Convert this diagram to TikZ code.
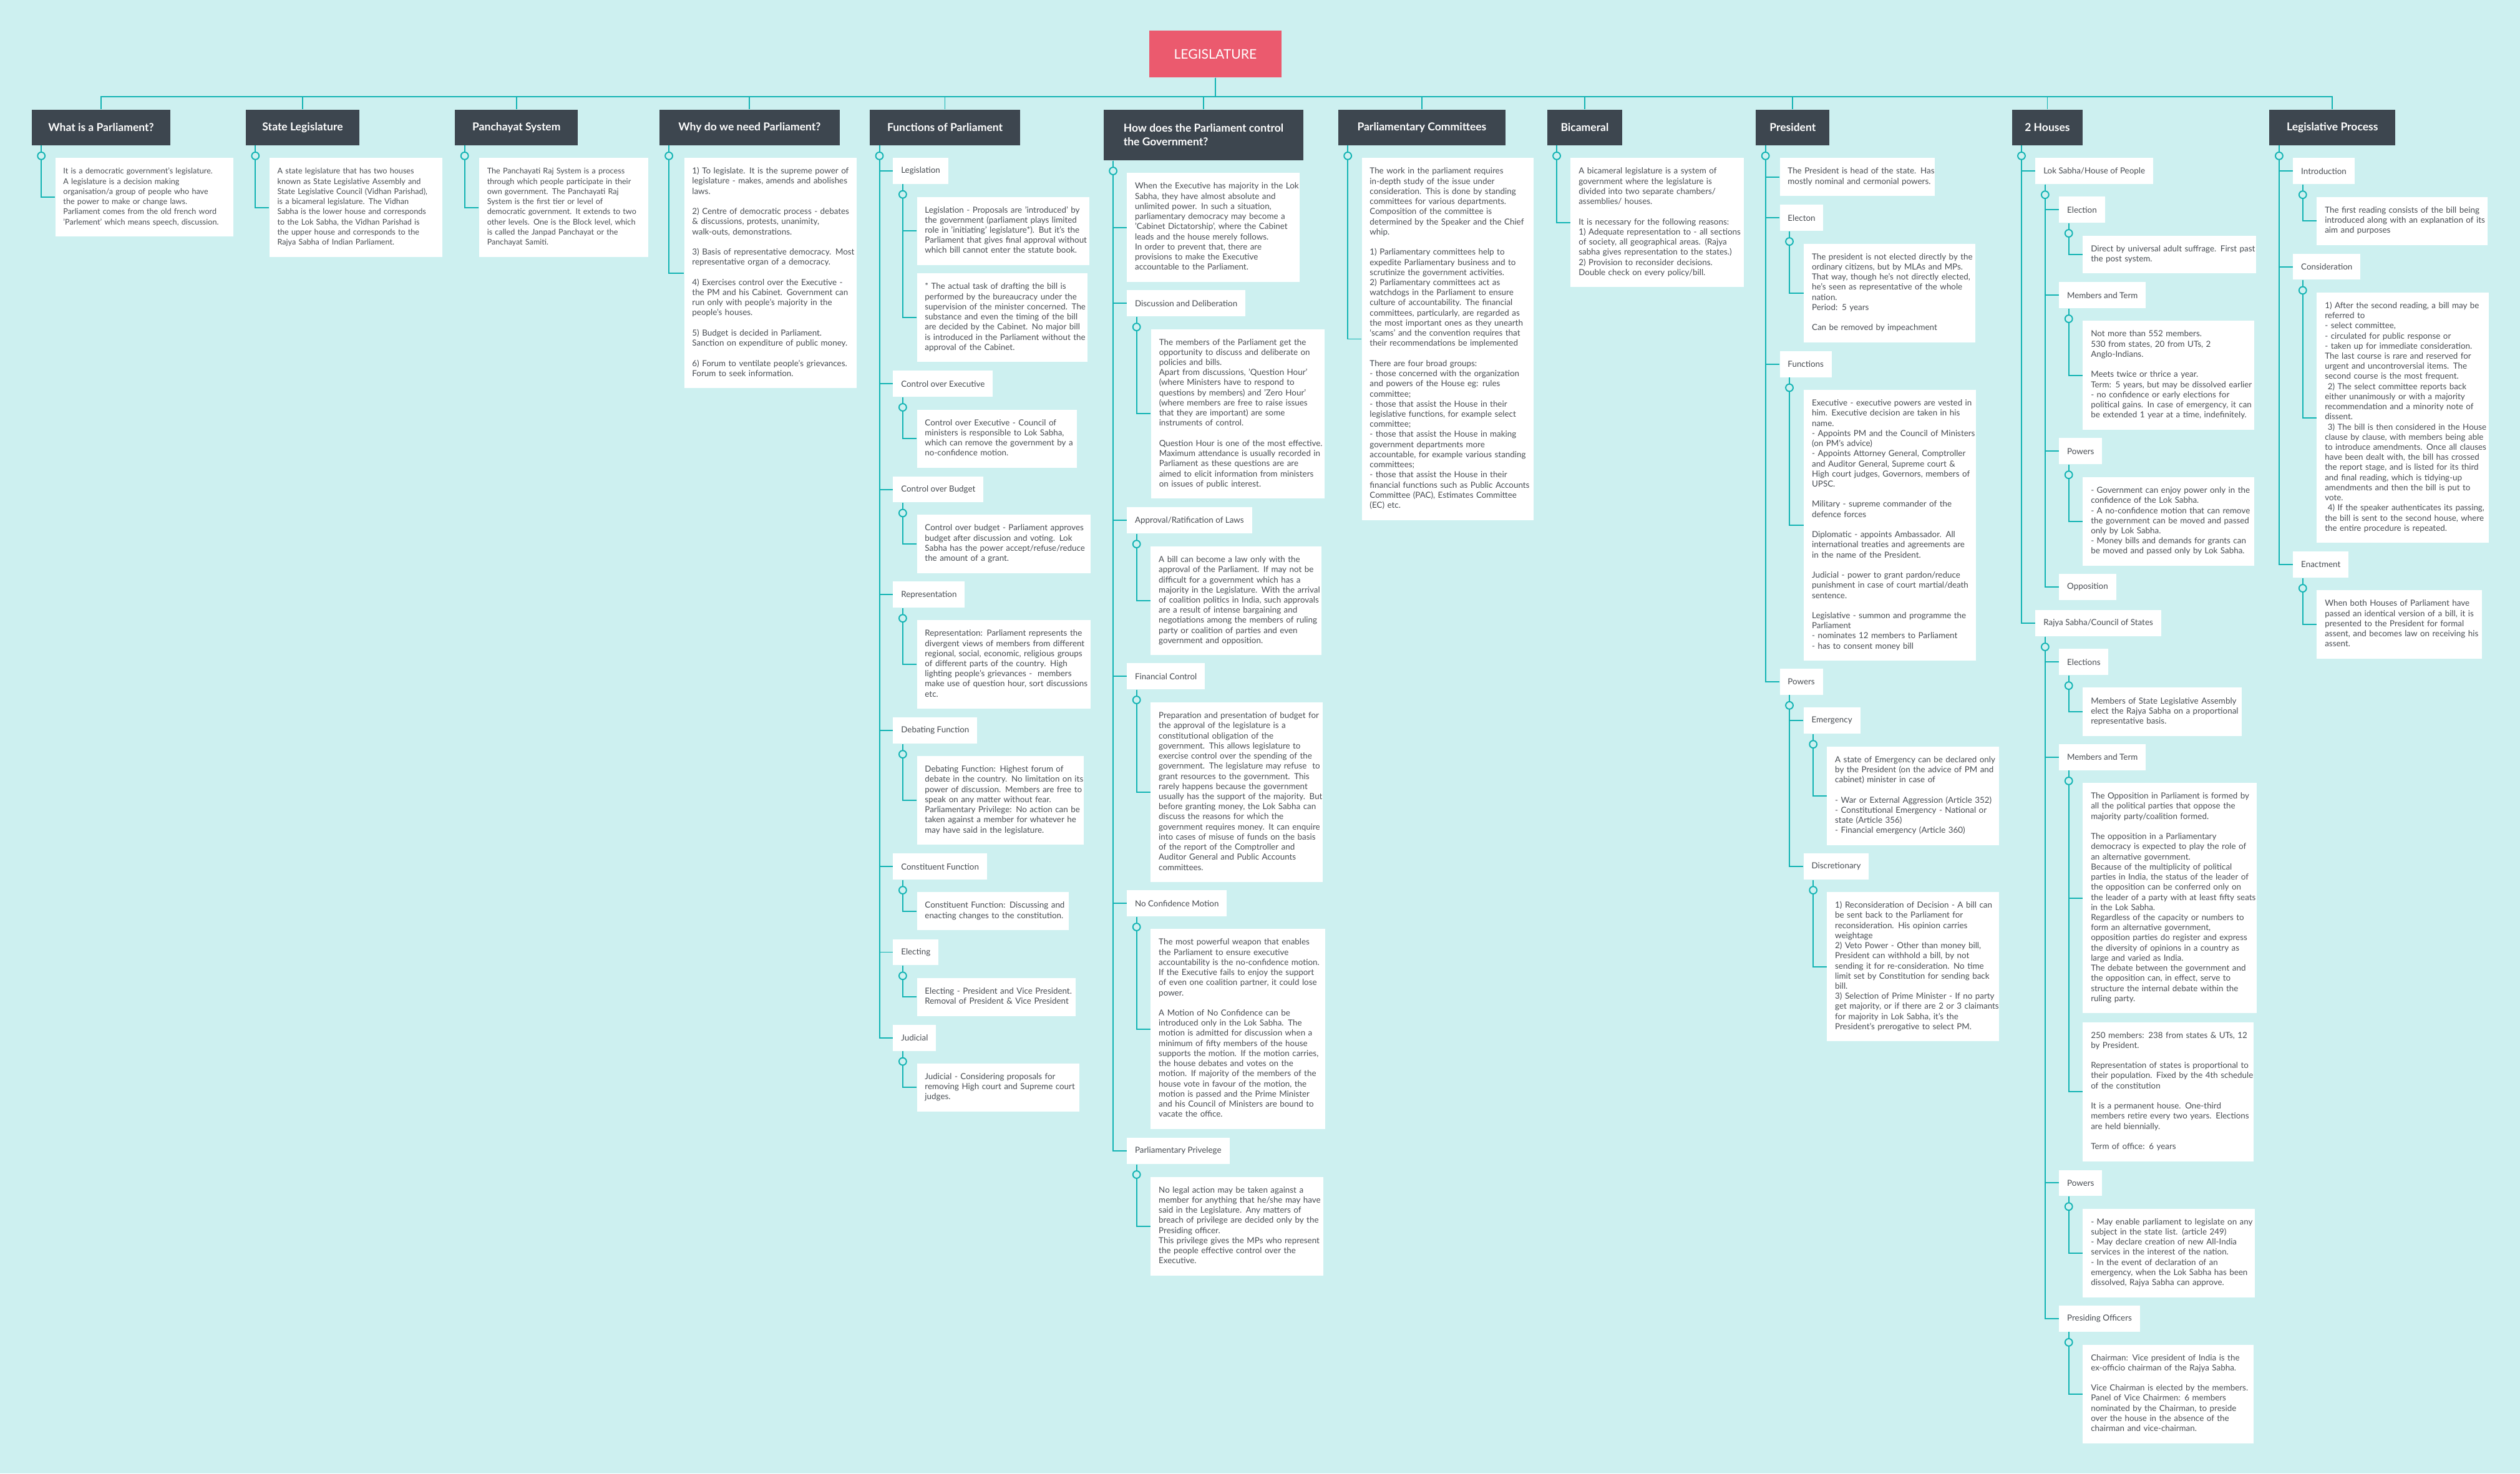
\documentclass[tikz,border=0pt]{standalone}
\usepackage{fontspec}
\setmainfont{Lato}
\definecolor{bg}{HTML}{CDF0F0}
\definecolor{tl}{HTML}{12B3B3}
\definecolor{hdr}{HTML}{3D464F}
\definecolor{pk}{HTML}{EB5A6E}
\definecolor{tx}{HTML}{474C52}
\newcommand\tb[1]{\noindent\begin{tabular}{@{}l@{}}#1\end{tabular}}
\newcommand\kids[2]{\foreach \c in {#2}{\draw[conn] ([xshift=6.2pt]#1.south west) |- (\c.west);}\node[dot] (k#1) at ([xshift=6.2pt,yshift=-6.4pt]#1.south west) {};}
\tikzset{
 conn/.style={draw=tl,line width=0.75pt},
 dot/.style={circle,draw=tl,fill=bg,line width=0.75pt,minimum size=4.6pt,inner sep=0pt},
 hd/.style={fill=hdr,text=white,font=\fontsize{6.8}{8.6}\selectfont\bfseries,inner xsep=6pt,inner ysep=0pt,minimum height=22.2pt,anchor=north west,align=left},
 lbl/.style={fill=white,text=tx,font=\fontsize{5.2}{6.3}\selectfont,inner xsep=5pt,inner ysep=2pt,minimum height=16.2pt,anchor=north west},
 txt/.style={fill=white,text=tx,font=\fontsize{5.2}{6.3}\selectfont,inner xsep=5pt,inner ysep=5.5pt,anchor=north west,align=left,text width=#1-10pt},
 ntxt/.style={txt=#1,font=\fontsize{4.9}{6.3}\selectfont}
}
\begin{document}
\begin{tikzpicture}[x=1pt,y=-1pt]
\fill[bg] (0,0) rectangle (1568,917);
\useasboundingbox (0,0) rectangle (1568,917);
\node[fill=pk,text=white,font=\fontsize{8.2}{9}\selectfont,minimum width=82pt,minimum height=29pt,anchor=north west] (leg) at (715,19) {LEGISLATURE};
% headers
\node[hd,minimum width=86.4pt] (H1) at (19.5,68) {What is a Parliament?};
\node[hd,minimum width=70.8pt] (H2) at (152.7,68) {State Legislature};
\node[hd,minimum width=76.5pt] (H3) at (282.9,68) {Panchayat System};
\node[hd,minimum width=112.4pt] (H4) at (410,68) {Why do we need Parliament?};
\node[hd,minimum width=93.5pt] (H5) at (541,68) {Functions of Parliament};
\node[hd,minimum width=124.5pt,minimum height=31.6pt] (H6) at (686.4,68) {How does the Parliament control\\the Government?};
\node[hd,minimum width=104.2pt] (H7) at (832.4,68) {Parliamentary Committees};
\node[hd,minimum width=46.9pt] (H8) at (962.4,68) {Bicameral};
\node[hd,minimum width=45.9pt] (H9) at (1092.3,68) {President};
\node[hd,minimum width=44.2pt] (H10) at (1251.6,68) {2 Houses};
\node[hd,minimum width=78.3pt] (H11) at (1411.9,68) {Legislative Process};
\foreach \h in {H1,H2,H3,H4,H5,H6,H7,H8,H9,H10,H11}{\draw[conn] (leg.south) -- (leg.south |- 0,60) -| (\h.north);}
% column 1-3
\node[ntxt=110.7pt] (w1) at (34.2,98.2) {\tb{It is a democratic government's legislature.\\A legislature is a decision making\\organisation/a group of people who have\\the power to make or change laws.\\Parliament comes from the old french word\\'Parlement' which means speech, discussion.}};
\node[ntxt=107.7pt] (s1) at (167.4,98.2) {\tb{A state legislature that has two houses\\known as State Legislative Assembly and\\State Legislative Council (Vidhan Parishad),\\is a bicameral legislature. The Vidhan\\Sabha is the lower house and corresponds\\to the Lok Sabha, the Vidhan Parishad is\\the upper house and corresponds to the\\Rajya Sabha of Indian Parliament.}};
\node[ntxt=105.1pt] (p1) at (297.9,98.2) {\tb{The Panchayati Raj System is a process\\through which people participate in their\\own government. The Panchayati Raj\\System is the first tier or level of\\democratic government. It extends to two\\other levels. One is the Block level, which\\is called the Janpad Panchayat or the\\Panchayat Samiti.}};
\node[txt=107.3pt] (y1) at (425.5,98.1) {\tb{1) To legislate. It is the supreme power of\\legislature - makes, amends and abolishes\\laws.\\[6.3pt]2) Centre of democratic process - debates\\\& discussions, protests, unanimity,\\walk-outs, demonstrations.\\[6.3pt]3) Basis of representative democracy. Most\\representative organ of a democracy.\\[6.3pt]4) Exercises control over the Executive -\\the PM and his Cabinet. Government can\\run only with people's majority in the\\people's houses.\\[6.3pt]5) Budget is decided in Parliament.\\Sanction on expenditure of public money.\\[6.3pt]6) Forum to ventilate people's grievances.\\Forum to seek information.}};
\kids{H1}{w1}\kids{H2}{s1}\kids{H3}{p1}\kids{H4}{y1}
% Functions
\node[lbl] (f1) at (555.5,98) {Legislation};
\node[txt=107.4pt] (f1a) at (570.3,122.3) {\tb{Legislation - Proposals are 'introduced' by\\the government (parliament plays limited\\role in 'initiating' legislature*). But it's the\\Parliament that gives final approval without\\which bill cannot enter the statute book.}};
\node[txt=106pt] (f1b) at (570.3,170) {\tb{* The actual task of drafting the bill is\\performed by the bureaucracy under the\\supervision of the minister concerned. The\\substance and even the timing of the bill\\are decided by the Cabinet. No major bill\\is introduced in the Parliament without the\\approval of the Cabinet.}};
\node[lbl] (f2) at (555.5,230.5) {Control over Executive};
\node[txt=99.4pt] (f2a) at (570.3,254.7) {\tb{Control over Executive - Council of\\ministers is responsible to Lok Sabha,\\which can remove the government by a\\no-confidence motion.}};
\node[lbl] (f3) at (555.5,296.3) {Control over Budget};
\node[txt=108pt] (f3a) at (570.3,320.2) {\tb{Control over budget - Parliament approves\\budget after discussion and voting. Lok\\Sabha has the power accept/refuse/reduce\\the amount of a grant.}};
\node[lbl] (f4) at (555.5,361.8) {Representation};
\node[txt=108pt] (f4a) at (570.3,385.8) {\tb{Representation: Parliament represents the\\divergent views of members from different\\regional, social, economic, religious groups\\of different parts of the country. High\\lighting people's grievances - \ members\\make use of question hour, sort discussions\\etc.}};
\node[lbl] (f5) at (555.5,446.4) {Debating Function};
\node[txt=104pt] (f5a) at (570.3,470.4) {\tb{Debating Function: Highest forum of\\debate in the country. No limitation on its\\power of discussion. Members are free to\\speak on any matter without fear.\\Parliamentary Privilege: No action can be\\taken against a member for whatever he\\may have said in the legislature.}};
\node[lbl] (f6) at (555.5,531) {Constituent Function};
\node[txt=94.5pt] (f6a) at (570.3,555.1) {\tb{Constituent Function: Discussing and\\enacting changes to the constitution.}};
\node[lbl] (f7) at (555.5,584.3) {Electing};
\node[txt=98.7pt] (f7a) at (570.3,608.5) {\tb{Electing - President and Vice President.\\Removal of President \& Vice President}};
\node[lbl] (f8) at (555.5,637.6) {Judicial};
\node[txt=101pt] (f8a) at (570.3,661.6) {\tb{Judicial - Considering proposals for\\removing High court and Supreme court\\judges.}};
\kids{H5}{f1,f2,f3,f4,f5,f6,f7,f8}
\kids{f1}{f1a,f1b}\kids{f2}{f2a}\kids{f3}{f3a}\kids{f4}{f4a}\kids{f5}{f5a}\kids{f6}{f6a}\kids{f7}{f7a}\kids{f8}{f8a}
% How does
\node[txt=107.6pt] (g0) at (701,107.5) {\tb{When the Executive has majority in the Lok\\Sabha, they have almost absolute and\\unlimited power. In such a situation,\\parliamentary democracy may become a\\'Cabinet Dictatorship', where the Cabinet\\leads and the house merely follows.\\In order to prevent that, there are\\provisions to make the Executive\\accountable to the Parliament.}};
\node[lbl] (g1) at (701,180.5) {Discussion and Deliberation};
\node[txt=108pt] (g1a) at (716,204.6) {\tb{The members of the Parliament get the\\opportunity to discuss and deliberate on\\policies and bills.\\Apart from discussions, 'Question Hour'\\(where Ministers have to respond to\\questions by members) and 'Zero Hour'\\(where members are free to raise issues\\that they are important) are some\\instruments of control.\\[6.3pt]Question Hour is one of the most effective.\\Maximum attendance is usually recorded in\\Parliament as these questions are are\\aimed to elicit information from ministers\\on issues of public interest.}};
\node[lbl] (g2) at (701,315.6) {Approval/Ratification of Laws};
\node[txt=106.2pt] (g2a) at (715.8,339.9) {\tb{A bill can become a law only with the\\approval of the Parliament. If may not be\\difficult for a government which has a\\majority in the Legislature. With the arrival\\of coalition politics in India, such approvals\\are a result of intense bargaining and\\negotiations among the members of ruling\\party or coalition of parties and even\\government and opposition.}};
\node[lbl] (g3) at (701,412.6) {Financial Control};
\node[txt=107pt] (g3a) at (715.8,437) {\tb{Preparation and presentation of budget for\\the approval of the legislature is a\\constitutional obligation of the\\government. This allows legislature to\\exercise control over the spending of the\\government. The legislature may refuse \ to\\grant resources to the government. This\\rarely happens because the government\\usually has the support of the majority. But\\before granting money, the Lok Sabha can\\discuss the reasons for which the\\government requires money. It can enquire\\into cases of misuse of funds on the basis\\of the report of the Comptroller and\\Auditor General and Public Accounts\\committees.}};
\node[lbl] (g4) at (701,553.9) {No Confidence Motion};
\node[txt=108.7pt] (g4a) at (715.8,578) {\tb{The most powerful weapon that enables\\the Parliament to ensure executive\\accountability is the no-confidence motion.\\If the Executive fails to enjoy the support\\of even one coalition partner, it could lose\\power.\\[6.3pt]A Motion of No Confidence can be\\introduced only in the Lok Sabha. The\\motion is admitted for discussion when a\\minimum of fifty members of the house\\supports the motion. If the motion carries,\\the house debates and votes on the\\motion. If majority of the members of the\\house vote in favour of the motion, the\\motion is passed and the Prime Minister\\and his Council of Ministers are bound to\\vacate the office.}};
\node[lbl] (g5) at (701,708) {Parliamentary Privelege};
\node[txt=107.4pt] (g5a) at (715.8,732.2) {\tb{No legal action may be taken against a\\member for anything that he/she may have\\said in the Legislature. Any matters of\\breach of privilege are decided only by the\\Presiding officer.\\This privilege gives the MPs who represent\\the people effective control over the\\Executive.}};
\kids{H6}{g0,g1,g2,g3,g4,g5}
\kids{g1}{g1a}\kids{g2}{g2a}\kids{g3}{g3a}\kids{g4}{g4a}\kids{g5}{g5a}
% Committees
\node[txt=107.1pt] (c1) at (847.1,98.2) {\tb{The work in the parliament requires\\in-depth study of the issue under\\consideration. This is done by standing\\committees for various departments.\\Composition of the committee is\\determined by the Speaker and the Chief\\whip.\\[6.3pt]1) Parliamentary committees help to\\expedite Parliamentary business and to\\scrutinize the government activities.\\2) Parliamentary committees act as\\watchdogs in the Parliament to ensure\\culture of accountability. The financial\\committees, particularly, are regarded as\\the most important ones as they unearth\\‘scams’ and the convention requires that\\their recommendations be implemented\\[6.3pt]There are four broad groups:\\- those concerned with the organization\\and powers of the House eg: rules\\committee;\\- those that assist the House in their\\legislative functions, for example select\\committee;\\- those that assist the House in making\\government departments more\\accountable, for example various standing\\committees;\\- those that assist the House in their\\financial functions such as Public Accounts\\Committee (PAC), Estimates Committee\\(EC) etc.}};
\kids{H7}{c1}
% Bicameral
\node[txt=107.8pt] (b1) at (977.1,98.2) {\tb{A bicameral legislature is a system of\\government where the legislature is\\divided into two separate chambers/\\assemblies/ houses.\\[6.3pt]It is necessary for the following reasons:\\1) Adequate representation to - all sections\\of society, all geographical areas. (Rajya\\sabha gives representation to the states.)\\2) Provision to reconsider decisions.\\Double check on every policy/bill.}};
\kids{H8}{b1}
% President
\node[txt=96.5pt] (r0) at (1107.2,98.2) {\tb{The President is head of the state. Has\\mostly nominal and cermonial powers.}};
\node[lbl] (r1) at (1107.2,127.3) {Electon};
\node[txt=106.8pt] (r1a) at (1122.2,151.5) {\tb{The president is not elected directly by the\\ordinary citizens, but by MLAs and MPs.\\That way, though he's not directly elected,\\he's seen as representative of the whole\\nation.\\Period: 5 years\\[6.3pt]Can be removed by impeachment}};
\node[lbl] (r2) at (1107.2,218.3) {Functions};
\node[txt=107.2pt] (r2a) at (1122.2,242.5) {\tb{Executive - executive powers are vested in\\him. Executive decision are taken in his\\name.\\- Appoints PM and the Council of Ministers\\(on PM's advice)\\- Appoints Attorney General, Comptroller\\and Auditor General, Supreme court \&\\High court judges, Governors, members of\\UPSC.\\[6.3pt]Military - supreme commander of the\\defence forces\\[6.3pt]Diplomatic - appoints Ambassador. All\\international treaties and agreements are\\in the name of the President.\\[6.3pt]Judicial - power to grant pardon/reduce\\punishment in case of court martial/death\\sentence.\\[6.3pt]Legislative - summon and programme the\\Parliament\\- nominates 12 members to Parliament\\- has to consent money bill}};
\node[lbl] (r3) at (1107.2,416) {Powers};
\node[lbl] (r3a) at (1122,440.2) {Emergency};
\node[txt=107pt] (r3a1) at (1136.6,464.4) {\tb{A state of Emergency can be declared only\\by the President (on the advice of PM and\\cabinet) minister in case of\\[6.3pt]- War or External Aggression (Article 352)\\- Constitutional Emergency - National or\\state (Article 356)\\- Financial emergency (Article 360)}};
\node[lbl] (r3b) at (1122,531) {Discretionary};
\node[txt=107pt] (r3b1) at (1136.6,555) {\tb{1) Reconsideration of Decision - A bill can\\be sent back to the Parliament for\\reconsideration. His opinion carries\\weightage\\2) Veto Power - Other than money bill,\\President can withhold a bill, by not\\sending it for re-consideration. No time\\limit set by Constitution for sending back\\bill.\\3) Selection of Prime Minister - If no party\\get majority, or if there are 2 or 3 claimants\\for majority in Lok Sabha, it's the\\President's prerogative to select PM.}};
\kids{H9}{r0,r1,r2,r3}\kids{r1}{r1a}\kids{r2}{r2a}\kids{r3}{r3a,r3b}\kids{r3a}{r3a1}\kids{r3b}{r3b1}
% 2 Houses
\node[lbl] (h1) at (1266.3,98.2) {Lok Sabha/House of People};
\node[lbl] (h1a) at (1281,122.2) {Election};
\node[txt=107.7pt] (h1a1) at (1295.8,146.4) {\tb{Direct by universal adult suffrage. First past\\the post system.}};
\node[lbl] (h1b) at (1281,175.4) {Members and Term};
\node[txt=106.6pt] (h1b1) at (1295.8,199.5) {\tb{Not more than 552 members.\\530 from states, 20 from UTs, 2\\Anglo-Indians.\\[6.3pt]Meets twice or thrice a year.\\Term: 5 years, but may be dissolved earlier\\- no confidence or early elections for\\political gains. In case of emergency, it can\\be extended 1 year at a time, indefinitely.}};
\node[lbl] (h1c) at (1281,272.5) {Powers};
\node[txt=106.6pt] (h1c1) at (1295.8,296.8) {\tb{- Government can enjoy power only in the\\confidence of the Lok Sabha.\\- A no-confidence motion that can remove\\the government can be moved and passed\\only by Lok Sabha.\\- Money bills and demands for grants can\\be moved and passed only by Lok Sabha.}};
\node[lbl] (h1d) at (1281,357.1) {Opposition};
\node[lbl] (h2) at (1266.3,379.6) {Rajya Sabha/Council of States};
\node[lbl] (h2a) at (1281,403.7) {Elections};
\node[txt=98.8pt] (h2a1) at (1295.8,427.8) {\tb{Members of State Legislative Assembly\\elect the Rajya Sabha on a proportional\\representative basis.}};
\node[lbl] (h2b) at (1281,463) {Members and Term};
\node[txt=108.2pt] (h2b1) at (1295.8,487.1) {\tb{The Opposition in Parliament is formed by\\all the political parties that oppose the\\majority party/coalition formed.\\[6.3pt]The opposition in a Parliamentary\\democracy is expected to play the role of\\an alternative government.\\Because of the multiplicity of political\\parties in India, the status of the leader of\\the opposition can be conferred only on\\the leader of a party with at least fifty seats\\in the Lok Sabha.\\Regardless of the capacity or numbers to\\form an alternative government,\\opposition parties do register and express\\the diversity of opinions in a country as\\large and varied as India.\\The debate between the government and\\the opposition can, in effect, serve to\\structure the internal debate within the\\ruling party.}};
\node[txt=106.2pt] (h2b2) at (1295.8,635.9) {\tb{250 members: 238 from states \& UTs, 12\\by President.\\[6.3pt]Representation of states is proportional to\\their population. Fixed by the 4th schedule\\of the constitution\\[6.3pt]It is a permanent house. One-third\\members retire every two years. Elections\\are held biennially.\\[6.3pt]Term of office: 6 years}};
\node[lbl] (h2c) at (1281,727.9) {Powers};
\node[txt=106.8pt] (h2c1) at (1295.8,752) {\tb{- May enable parliament to legislate on any\\subject in the state list. (article 249)\\- May declare creation of new All-India\\services in the interest of the nation.\\- In the event of declaration of an\\emergency, when the Lok Sabha has been\\dissolved, Rajya Sabha can approve.}};
\node[lbl] (h2d) at (1281,812.4) {Presiding Officers};
\node[txt=106.2pt] (h2d1) at (1295.8,836.6) {\tb{Chairman: Vice president of India is the\\ex-officio chairman of the Rajya Sabha.\\[6.3pt]Vice Chairman is elected by the members.\\Panel of Vice Chairmen: 6 members\\nominated by the Chairman, to preside\\over the house in the absence of the\\chairman and vice-chairman.}};
\kids{H10}{h1,h2}\kids{h1}{h1a,h1b,h1c,h1d}\kids{h1a}{h1a1}\kids{h1b}{h1b1}\kids{h1c}{h1c1}
\kids{h2}{h2a,h2b,h2c,h2d}\kids{h2a}{h2a1}\kids{h2b}{h2b1,h2b2}\kids{h2c}{h2c1}\kids{h2d}{h2d1}
% Legislative Process
\node[lbl] (l1) at (1426.6,98.2) {Introduction};
\node[txt=106.2pt] (l1a) at (1441.4,122.3) {\tb{The first reading consists of the bill being\\introduced along with an explanation of its\\aim and purposes}};
\node[lbl] (l2) at (1426.6,157.7) {Consideration};
\node[txt=107.1pt] (l2a) at (1441.4,181.8) {\tb{1) After the second reading, a bill may be\\referred to\\- select committee,\\- circulated for public response or\\- taken up for immediate consideration.\\The last course is rare and reserved for\\urgent and uncontroversial items. The\\second course is the most frequent.\\\ 2) The select committee reports back\\either unanimously or with a majority\\recommendation and a minority note of\\dissent.\\\ 3) The bill is then considered in the House\\clause by clause, with members being able\\to introduce amendments. Once all clauses\\have been dealt with, the bill has crossed\\the report stage, and is listed for its third\\and final reading, which is tidying-up\\amendments and then the bill is put to\\vote.\\\ 4) If the speaker authenticates its passing,\\the bill is sent to the second house, where\\the entire procedure is repeated.}};
\node[lbl] (l3) at (1426.6,343.1) {Enactment};
\node[txt=102.8pt] (l3a) at (1441.4,367.2) {\tb{When both Houses of Parliament have\\passed an identical version of a bill, it is\\presented to the President for formal\\assent, and becomes law on receiving his\\assent.}};
\kids{H11}{l1,l2,l3}\kids{l1}{l1a}\kids{l2}{l2a}\kids{l3}{l3a}
\end{tikzpicture}
\end{document}
